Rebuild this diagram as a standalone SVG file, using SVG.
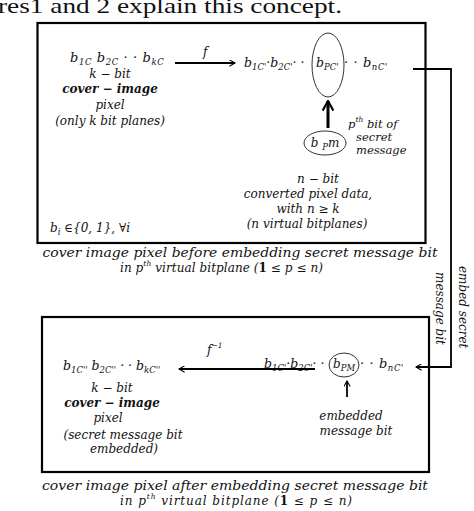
<svg xmlns="http://www.w3.org/2000/svg" width="474" height="511" viewBox="0 0 474 511">
<defs>
<style>
text{font-family:"DejaVu Serif","Liberation Serif",serif;font-style:italic;font-size:12px;fill:#111}
.c{text-anchor:middle}
.b{font-weight:bold}
.row{font-size:13px;letter-spacing:0.6px}
.rw{font-size:12.5px}
.s{font-size:8.5px;baseline-shift:-3px}
.u{font-size:7.5px;baseline-shift:6px}
.sm{font-size:11.5px}
.hd{font-family:"Liberation Serif",serif;font-style:normal;font-size:22px}
.box{fill:none;stroke:#000;stroke-width:2.2}
.ell{fill:none;stroke:#333;stroke-width:1}
.ln{fill:none;stroke:#000;stroke-width:1.8}
.thick{fill:none;stroke:#000;stroke-width:3}
</style>
<marker id="ah" viewBox="0 0 10 10" refX="9" refY="5" markerWidth="7" markerHeight="7" markerUnits="userSpaceOnUse" orient="auto">
<path d="M1,0.5 L9,5 L1,9.5" fill="none" stroke="#000" stroke-width="1.6"/>
</marker>
<marker id="ah2" viewBox="0 0 10 10" refX="9" refY="5" markerWidth="4" markerHeight="4" orient="auto">
<path d="M1,0.5 L9,5 L1,9.5" fill="none" stroke="#000" stroke-width="1.8"/>
</marker>
</defs>
<rect width="474" height="511" fill="#fff"/>
<text class="hd" x="-2" y="13" textLength="344" lengthAdjust="spacingAndGlyphs">res1 and 2 explain this concept.</text>

<g id="top-box">
<rect class="box" x="37.5" y="23" width="388" height="220"/>
</g>

<g id="cover-pixel">
<text class="row" x="70" y="62">b<tspan class="s">1C</tspan> b<tspan class="s">2C</tspan> · · b<tspan class="s">kC</tspan></text>
<text class="c" x="110" y="78">k − bit</text>
<text class="c b" x="110" y="93">cover − image</text>
<text class="c" x="110" y="109">pixel</text>
<text class="c" x="110" y="125">(only k bit planes)</text>
</g>

<g id="converted-pixel">
<text class="rw" x="244" y="67">b<tspan class="s">1C'</tspan>·b<tspan class="s">2C'</tspan>· ·</text>
<ellipse class="ell" cx="328" cy="65" rx="16" ry="32"/>
<text class="rw" x="316" y="67">b<tspan class="s">PC'</tspan></text>
<text class="row" x="344" y="67">· · b<tspan class="s">nC'</tspan></text>
<text class="c" x="318" y="183">n − bit</text>
<text class="c" x="308" y="198">converted pixel data,</text>
<text class="c" x="308" y="213">with n ≥ k</text>
<text class="c" x="307" y="228">(n virtual bitplanes)</text>
</g>

<g id="secret-bit">
<ellipse class="ell" cx="325" cy="143" rx="21" ry="12"/>
<text class="c" x="325" y="147">b <tspan class="s">P</tspan>m</text>
<text class="sm" x="348" y="128">p<tspan class="u">th</tspan> bit of</text>
<text class="sm" x="356" y="141">secret</text>
<text class="sm" x="356" y="154">message</text>
</g>

<g id="domain-note">
<text x="50" y="232">b<tspan class="s">i</tspan> ∈{0, 1}, ∀i</text>
</g>

<g id="caption-before">
<text class="c" x="240" y="257" textLength="395" lengthAdjust="spacingAndGlyphs">cover image pixel before embedding secret message bit</text>
<text x="120" y="272" textLength="203">in p<tspan class="u">th</tspan> virtual bitplane (<tspan font-style="normal" font-weight="bold">1</tspan> ≤ p ≤ n)</text>
</g>

<g id="bottom-box">
<rect class="box" x="42" y="317" width="387" height="155"/>
</g>

<g id="stego-pixel">
<text class="rw" x="63" y="370">b<tspan class="s">1C''</tspan> b<tspan class="s">2C''</tspan> · · b<tspan class="s">kC''</tspan></text>
<text class="c" x="112" y="392">k − bit</text>
<text class="c b" x="112" y="407">cover − image</text>
<text class="c" x="108" y="422">pixel</text>
<text class="c" x="123" y="439">(secret message bit</text>
<text class="c" x="124" y="453">embedded)</text>
</g>

<g id="embedded-pixel">
<text class="rw" x="264" y="368">b<tspan class="s">1C'</tspan>·b<tspan class="s">2C'</tspan>· ·</text>
<ellipse class="ell" cx="344" cy="365" rx="15" ry="12"/>
<text x="333" y="368">b<tspan class="s">PM</tspan></text>
<text class="row" x="360" y="368">· · b<tspan class="s">nC'</tspan></text>
<text class="c" x="351" y="420">embedded</text>
<text class="c" x="356" y="435">message bit</text>
</g>

<g id="caption-after">
<text class="c" x="235" y="490" textLength="386" lengthAdjust="spacingAndGlyphs">cover image pixel after embedding secret message bit</text>
<text x="120" y="505" textLength="232">in p<tspan class="u">th</tspan> virtual bitplane (<tspan font-style="normal" font-weight="bold">1</tspan> ≤ p ≤ n)</text>
</g>

<g id="connectors">
<path class="ln" d="M175,63 H235" marker-end="url(#ah)"/>
<text x="203" y="56">f</text>
<path class="ln" d="M315,369 H179" marker-end="url(#ah)"/>
<text x="207" y="354">f<tspan class="u">−1</tspan></text>
<path class="thick" d="M328,128 V101" marker-end="url(#ah2)"/>
<path class="ln" d="M347,397 V381" marker-end="url(#ah)"/>
<path class="ln" d="M413,69 H451 V367 H416" marker-end="url(#ah)"/>
<text transform="translate(459,266) rotate(90)" font-size="11.5">embed secret</text>
<text transform="translate(436,272) rotate(90)" font-size="11.5">message bit</text>
</g>
</svg>
